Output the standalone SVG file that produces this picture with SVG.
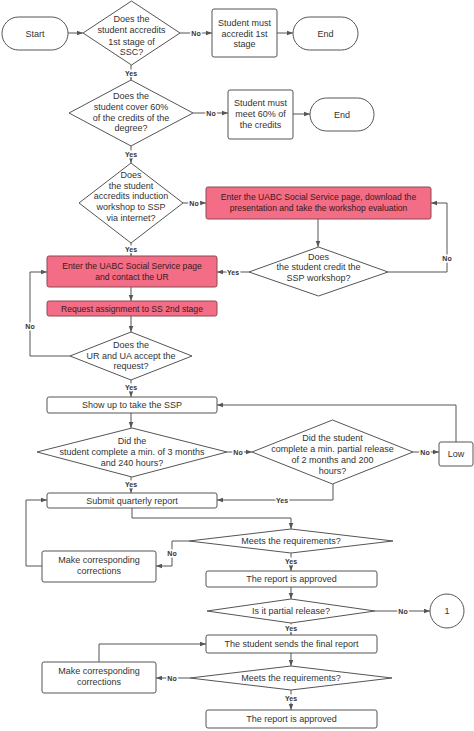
<svg xmlns="http://www.w3.org/2000/svg" width="474" height="731" viewBox="0 0 474 731">
<style>
  .bx{fill:#fff;stroke:#555;stroke-width:1}
  .pk{fill:#f26d85;stroke:#8a4a55;stroke-width:1}
  .t{font-family:"Liberation Sans",Arial,sans-serif;font-size:9px;fill:#333;text-anchor:middle}
  .tp{font-family:"Liberation Sans",Arial,sans-serif;font-size:8.6px;fill:#3a1a20;text-anchor:middle}
  .c{fill:none;stroke:#555;stroke-width:1}
  .l{font-family:"Liberation Sans",Arial,sans-serif;font-size:7px;font-weight:bold;fill:#333;text-anchor:middle;stroke:#fff;stroke-width:3;paint-order:stroke}
</style>
<defs>
  <marker id="a" viewBox="0 0 8 8" refX="8" refY="4" markerWidth="6" markerHeight="6" orient="auto" markerUnits="userSpaceOnUse">
    <path d="M0,1 L8,4 L0,7 Z" fill="#555"/>
  </marker>
</defs>
<rect width="474" height="731" fill="#fff"/>

<g id="connectors">
  <path class="c" d="M68,33 H83" marker-end="url(#a)"/>
  <path class="c" d="M180,33 H212" marker-end="url(#a)"/>
  <path class="c" d="M277,33 H293" marker-end="url(#a)"/>
  <path class="c" d="M131,65 V80" marker-end="url(#a)"/>
  <path class="c" d="M193,113 H228" marker-end="url(#a)"/>
  <path class="c" d="M293,114 H310" marker-end="url(#a)"/>
  <path class="c" d="M131,146 V163" marker-end="url(#a)"/>
  <path class="c" d="M183,203 H206" marker-end="url(#a)"/>
  <path class="c" d="M318,219 V247" marker-end="url(#a)"/>
  <path class="c" d="M388,272 H447 V203 H431" marker-end="url(#a)"/>
  <path class="c" d="M249,272 H217" marker-end="url(#a)"/>
  <path class="c" d="M131,243 V256" marker-end="url(#a)"/>
  <path class="c" d="M131,287 V301" marker-end="url(#a)"/>
  <path class="c" d="M131,316 V332" marker-end="url(#a)"/>
  <path class="c" d="M70,356 H30 V272 H47" marker-end="url(#a)"/>
  <path class="c" d="M131,380 V397" marker-end="url(#a)"/>
  <path class="c" d="M131,413 V428" marker-end="url(#a)"/>
  <path class="c" d="M227,452 H252" marker-end="url(#a)"/>
  <path class="c" d="M413,452 H439" marker-end="url(#a)"/>
  <path class="c" d="M456,442 V405 H217" marker-end="url(#a)"/>
  <path class="c" d="M333,484 V500 H217" marker-end="url(#a)"/>
  <path class="c" d="M131,477 V493" marker-end="url(#a)"/>
  <path class="c" d="M132,508 V518 H291 V529" marker-end="url(#a)"/>
  <path class="c" d="M189,541 H172 V566 H156" marker-end="url(#a)"/>
  <path class="c" d="M42,566 H26 V500 H47" marker-end="url(#a)"/>
  <path class="c" d="M291,553 V571" marker-end="url(#a)"/>
  <path class="c" d="M291,587 V599" marker-end="url(#a)"/>
  <path class="c" d="M375,611 H430" marker-end="url(#a)"/>
  <path class="c" d="M291,623 V635" marker-end="url(#a)"/>
  <path class="c" d="M291,653 V666" marker-end="url(#a)"/>
  <path class="c" d="M190,678 H156" marker-end="url(#a)"/>
  <path class="c" d="M99,662 V644 H206" marker-end="url(#a)"/>
  <path class="c" d="M291,690 V710" marker-end="url(#a)"/>
  <text class="l" x="196" y="35.5">No</text>
  <text class="l" x="131" y="75.5">Yes</text>
  <text class="l" x="211" y="115.5">No</text>
  <text class="l" x="131" y="156.5">Yes</text>
  <text class="l" x="194" y="205.5">No</text>
  <text class="l" x="447" y="260.5">No</text>
  <text class="l" x="233" y="274.5">Yes</text>
  <text class="l" x="131" y="251.5">Yes</text>
  <text class="l" x="30" y="328.5">No</text>
  <text class="l" x="131" y="389.5">Yes</text>
  <text class="l" x="238" y="454.5">No</text>
  <text class="l" x="425" y="454.5">No</text>
  <text class="l" x="282" y="502.5">Yes</text>
  <text class="l" x="131" y="486.5">Yes</text>
  <text class="l" x="172" y="555.5">No</text>
  <text class="l" x="291" y="563.5">Yes</text>
  <text class="l" x="403" y="613.5">No</text>
  <text class="l" x="291" y="630.5">Yes</text>
  <text class="l" x="172" y="680.5">No</text>
  <text class="l" x="291" y="700.5">Yes</text>
</g>

<g id="start">
  <rect class="bx" x="2" y="17" width="66" height="33" rx="16.5"/>
  <text class="t" x="35" y="36.5">Start</text>
</g>
<g id="d1">
  <polygon class="bx" points="131.5,1 180,33 131.5,65 83,33"/>
  <text class="t" x="131.5" y="22">Does the</text>
  <text class="t" x="131.5" y="33">student accredits</text>
  <text class="t" x="131.5" y="44.5">1st stage of</text>
  <text class="t" x="131.5" y="55">SSC?</text>
</g>
<g id="box1">
  <rect class="bx" x="212" y="9" width="65" height="48" rx="2"/>
  <text class="t" x="244.5" y="26">Student must</text>
  <text class="t" x="244.5" y="36.5">accredit 1st</text>
  <text class="t" x="244.5" y="47">stage</text>
</g>
<g id="end1">
  <rect class="bx" x="293" y="17" width="65" height="33" rx="16.5"/>
  <text class="t" x="325.5" y="36.5">End</text>
</g>
<g id="d2">
  <polygon class="bx" points="131,80 193,113 131,146 69,113"/>
  <text class="t" x="131" y="99">Does the</text>
  <text class="t" x="131" y="109.5">student cover 60%</text>
  <text class="t" x="131" y="121">of the credits of the</text>
  <text class="t" x="131" y="130.5">degree?</text>
</g>
<g id="box2">
  <rect class="bx" x="228" y="90" width="65" height="49" rx="2"/>
  <text class="t" x="260.5" y="106">Student must</text>
  <text class="t" x="260.5" y="117">meet 60% of</text>
  <text class="t" x="260.5" y="127.5">the credits</text>
</g>
<g id="end2">
  <rect class="bx" x="310" y="98" width="64" height="33" rx="16.5"/>
  <text class="t" x="342" y="117.5">End</text>
</g>
<g id="d3">
  <polygon class="bx" points="131,163 183,203 131,243 79,203"/>
  <text class="t" x="131" y="178">Does</text>
  <text class="t" x="131" y="188.5">the student</text>
  <text class="t" x="131" y="199">accredits induction</text>
  <text class="t" x="131" y="210">workshop to SSP</text>
  <text class="t" x="131" y="221">via internet?</text>
</g>
<g id="pink1">
  <rect class="pk" x="206" y="187" width="225" height="32" rx="2"/>
  <text class="tp" x="318.5" y="200">Enter the UABC Social Service page, download the</text>
  <text class="tp" x="318.5" y="210.5">presentation and take the workshop evaluation</text>
</g>
<g id="d4">
  <polygon class="bx" points="318.5,247 388,272 318.5,296 249,272"/>
  <text class="t" x="318.5" y="260">Does</text>
  <text class="t" x="318.5" y="270">the student credit the</text>
  <text class="t" x="318.5" y="280.5">SSP workshop?</text>
</g>
<g id="pink2">
  <rect class="pk" x="47" y="256" width="170" height="31" rx="2"/>
  <text class="tp" x="132" y="269">Enter the UABC Social Service page</text>
  <text class="tp" x="132" y="280">and contact the UR</text>
</g>
<g id="pink3">
  <rect class="pk" x="47" y="301" width="170" height="15" rx="2"/>
  <text class="tp" x="132" y="311.5">Request assignment to SS 2nd stage</text>
</g>
<g id="d5">
  <polygon class="bx" points="131,332 192,356 131,380 70,356"/>
  <text class="t" x="131" y="348">Does the</text>
  <text class="t" x="131" y="359">UR and UA accept the</text>
  <text class="t" x="131" y="369">request?</text>
</g>
<g id="show">
  <rect class="bx" x="47" y="397" width="170" height="16" rx="2"/>
  <text class="t" x="132" y="408">Show up to take the SSP</text>
</g>
<g id="d6">
  <polygon class="bx" points="132,428 227,452 132,477 37,452"/>
  <text class="t" x="132" y="444">Did the</text>
  <text class="t" x="132" y="455">student complete a min. of 3 months</text>
  <text class="t" x="132" y="466">and 240 hours?</text>
</g>
<g id="d7">
  <polygon class="bx" points="332.5,420 413,452 332.5,484 252,452"/>
  <text class="t" x="332.5" y="441">Did the student</text>
  <text class="t" x="332.5" y="452">complete a min. partial release</text>
  <text class="t" x="332.5" y="463">of 2 months and 200</text>
  <text class="t" x="332.5" y="474">hours?</text>
</g>
<g id="low">
  <rect class="bx" x="439" y="442" width="34" height="24" rx="2"/>
  <text class="t" x="456" y="457">Low</text>
</g>
<g id="submit">
  <rect class="bx" x="47" y="493" width="170" height="15" rx="2"/>
  <text class="t" x="132" y="503.5">Submit quarterly report</text>
</g>
<g id="d8">
  <polygon class="bx" points="291,529 393,541 291,553 189,541"/>
  <text class="t" x="291" y="544">Meets the requirements?</text>
</g>
<g id="corr1">
  <rect class="bx" x="42" y="551" width="114" height="31" rx="2"/>
  <text class="t" x="99" y="563">Make corresponding</text>
  <text class="t" x="99" y="574">corrections</text>
</g>
<g id="approved1">
  <rect class="bx" x="206" y="571" width="171" height="16" rx="2"/>
  <text class="t" x="291.5" y="582">The report is approved</text>
</g>
<g id="d9">
  <polygon class="bx" points="291,599 375,611 291,623 207,611"/>
  <text class="t" x="291" y="614">Is it partial release?</text>
</g>
<g id="c1">
  <circle class="bx" cx="447" cy="611" r="17"/>
  <text class="t" x="447" y="614">1</text>
</g>
<g id="final">
  <rect class="bx" x="206" y="635" width="171" height="18" rx="2"/>
  <text class="t" x="291.5" y="647">The student sends the final report</text>
</g>
<g id="d10">
  <polygon class="bx" points="291,666 392,678 291,690 190,678"/>
  <text class="t" x="291" y="681">Meets the requirements?</text>
</g>
<g id="corr2">
  <rect class="bx" x="42" y="662" width="114" height="31" rx="2"/>
  <text class="t" x="99" y="674">Make corresponding</text>
  <text class="t" x="99" y="685">corrections</text>
</g>
<g id="approved2">
  <rect class="bx" x="206" y="710" width="171" height="18" rx="2"/>
  <text class="t" x="291.5" y="722">The report is approved</text>
</g>
</svg>
